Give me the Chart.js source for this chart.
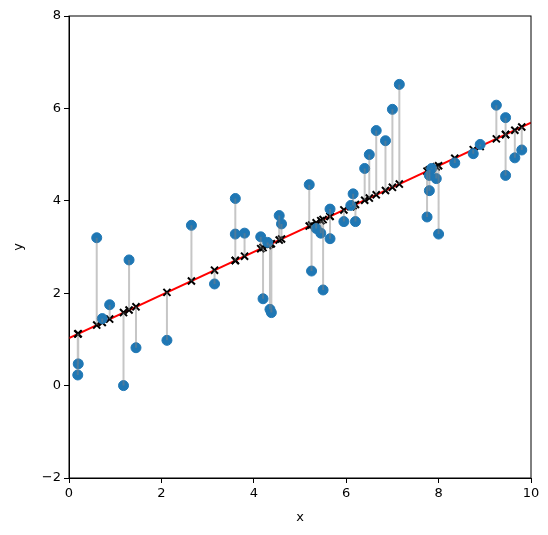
<!DOCTYPE html>
<html>
<head>
<script src="https://cdn.jsdelivr.net/npm/chart.js@4"></script>
<style>body{margin:0;background:#fff}</style>
</head>
<body>
<div style="width:548px;height:535px"><canvas id="c"></canvas></div>
<script>
const xs = [0.19,0.2,0.6,0.72,0.88,1.18,1.3,1.45,2.12,2.65,3.15,3.6,3.6,3.8,4.15,4.2,4.3,4.35,4.38,4.55,4.6,5.2,5.25,5.35,5.45,5.5,5.65,5.65,5.95,6.1,6.15,6.2,6.4,6.5,6.65,6.85,7.0,7.15,7.75,7.8,7.8,7.85,7.95,8.0,8.35,8.75,8.9,9.25,9.45,9.45,9.65,9.8];
const ys = [0.23,0.47,3.2,1.45,1.75,0.0,2.72,0.82,0.98,3.47,2.2,4.05,3.28,3.3,3.22,1.88,3.1,1.65,1.58,3.68,3.5,4.35,2.48,3.4,3.3,2.07,3.82,3.18,3.55,3.9,4.15,3.55,4.7,5.0,5.52,5.3,5.98,6.52,3.65,4.22,4.55,4.7,4.48,3.28,4.82,5.02,5.22,6.07,5.8,4.55,4.93,5.1];
const intercept = 1.03;
const slope = 0.466;
const xTicks = [0,2,4,6,8,10];
const yTicks = [-2,0,2,4,6,8];

const fit = xs.map(x => intercept + slope * x);
const pts = xs.map((x, i) => ({x, y: ys[i]}));
const fitPts = xs.map((x, i) => ({x, y: fit[i]}));
const resid = [];
xs.forEach((x, i) => { resid.push({x, y: ys[i]}, {x, y: fit[i]}, {x, y: null}); });

const frame = {
  id: 'frame',
  afterDraw(chart) {
    const a = chart.chartArea, c = chart.ctx;
    c.save(); c.strokeStyle = '#000'; c.lineWidth = 1;
    c.strokeRect(a.left, a.top, a.right - a.left, a.bottom - a.top);
    c.restore();
  }
};
const tickFont = {family: 'DejaVu Sans', size: 13};
const minus = v => String(v).replace('-', '\u2212');
new Chart(document.getElementById('c'), {
  type: 'scatter',
  data: {
    datasets: [
      {data: resid, showLine: true, spanGaps: false, borderColor: 'rgba(128,128,128,0.45)', borderWidth: 2, pointRadius: 0},
      {data: pts, backgroundColor: '#1f77b4', borderColor: '#1f77b4', pointRadius: 5},
      {data: fitPts, pointStyle: 'crossRot', pointRadius: 5, borderColor: '#000', borderWidth: 2},
      {data: [{x: 0, y: intercept}, {x: 10, y: intercept + slope * 10}], showLine: true, borderColor: 'red', borderWidth: 2, pointRadius: 0}
    ]
  },
  options: {
    responsive: true, maintainAspectRatio: false, animation: false,
    layout: {padding: {left: 9, right: 17, top: 16, bottom: 8}},
    plugins: {legend: {display: false}, tooltip: {enabled: false}},
    scales: {
      x: {
        min: 0, max: 10,
        afterBuildTicks: s => { s.ticks = xTicks.map(v => ({value: v})); },
        afterFit: s => { s.height = 49; },
        ticks: {color: '#000', font: tickFont, maxRotation: 0, callback: minus},
        grid: {drawOnChartArea: false, tickLength: 5, color: '#000'},
        border: {color: '#000'},
        title: {display: true, text: 'x', color: '#000', font: tickFont, padding: 2}
      },
      y: {
        min: -2, max: 8,
        afterBuildTicks: s => { s.ticks = yTicks.map(v => ({value: v})); },
        afterFit: s => { s.width = 60; },
        ticks: {color: '#000', font: tickFont, callback: minus},
        grid: {drawOnChartArea: false, tickLength: 5, color: '#000'},
        border: {color: '#000'},
        title: {display: true, text: 'y', color: '#000', font: tickFont, padding: 2}
      }
    }
  },
  plugins: [frame]
});
</script>
</body>
</html>
